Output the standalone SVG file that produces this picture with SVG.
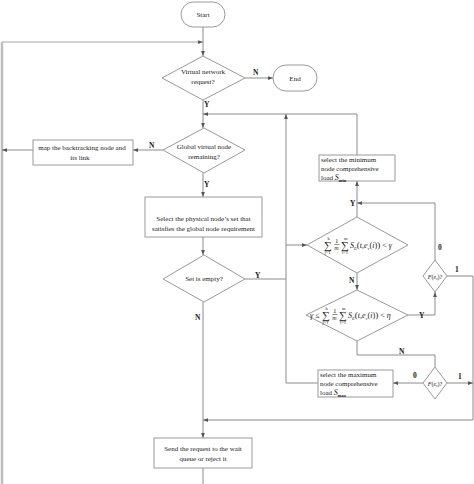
<svg xmlns="http://www.w3.org/2000/svg" width="474" height="484" viewBox="0 0 474 484">
<style>
.ln{stroke:#8c8c8c;stroke-width:1;fill:none}
.bx{fill:#fff;stroke:#9a9a9a;stroke-width:1}
.t{font-family:"Liberation Serif",serif;font-size:7px;fill:#222}
.c{text-anchor:middle}
.lb{font-family:"Liberation Serif",serif;font-size:7.5px;fill:#222;font-weight:bold}
.m{font-family:"Liberation Serif",serif;fill:#222;font-style:italic}
.sg{font-family:"Liberation Serif",serif;fill:#222;font-size:11px}
.sm{font-family:"Liberation Serif",serif;fill:#222;font-size:4.5px}
</style>
<defs>
<marker id="ar" viewBox="0 0 8 6" refX="8" refY="3" markerWidth="5" markerHeight="4" orient="auto" markerUnits="userSpaceOnUse">
<path d="M0 0L8 3L0 6z" fill="#555"/>
</marker>
</defs>
<rect width="474" height="484" fill="#fff"/>
<g id="connectors">
<path d="M2 484V42" stroke="#bdbdbd" stroke-width="2.5" fill="none"/>
<path d="M2 42H203" stroke="#c4c4c4" stroke-width="1.3" fill="none" marker-end="url(#ar)"/>
<path class="ln" d="M203 27V56" marker-end="url(#ar)"/>
<path class="ln" d="M245 78H273" marker-end="url(#ar)"/>
<path class="ln" d="M203 100V128" marker-end="url(#ar)"/>
<path class="ln" d="M357 155V114H203" marker-end="url(#ar)"/>
<path class="ln" d="M318 383H286V114" marker-end="url(#ar)" stroke="#777"/>
<path class="ln" d="M163 150H133" marker-end="url(#ar)"/>
<path class="ln" d="M33 150H2" marker-end="url(#ar)"/>
<path class="ln" d="M203 173V197" marker-end="url(#ar)"/>
<path class="ln" d="M203 237V255" marker-end="url(#ar)"/>
<path class="ln" d="M245 279H286"/>
<path class="ln" d="M286 245H307" marker-end="url(#ar)"/>
<path class="ln" d="M203 302V438" marker-end="url(#ar)"/>
<path class="ln" d="M203 468V484"/>
<path class="ln" d="M357 217V181" marker-end="url(#ar)"/>
<path class="ln" d="M435 260V203H357" marker-end="url(#ar)"/>
<path class="ln" d="M357 273V290" marker-end="url(#ar)"/>
<path class="ln" d="M408 315H435V292" marker-end="url(#ar)"/>
<path class="ln" d="M447 276H473V420H203" stroke="#aaa" marker-end="url(#ar)"/>
<path class="ln" d="M357 341V355H435V367"/>
<path class="ln" d="M423 383H393" marker-end="url(#ar)"/>
<path class="ln" d="M447 383H473" marker-end="url(#ar)"/>
</g>
<g id="labels">
<text class="lb" x="253" y="75">N</text>
<text class="lb" x="204" y="107">Y</text>
<text class="lb" x="149" y="148">N</text>
<text class="lb" x="204" y="187">Y</text>
<text class="lb" x="255" y="278">Y</text>
<text class="lb" x="195" y="320">N</text>
<text class="lb" x="350" y="206">Y</text>
<text class="lb" x="438" y="250">0</text>
<text class="lb" x="455" y="272">1</text>
<text class="lb" x="349" y="283">N</text>
<text class="lb" x="419" y="318">Y</text>
<text class="lb" x="399" y="354">N</text>
<text class="lb" x="413" y="378">0</text>
<text class="lb" x="458" y="379">1</text>
</g>
<g id="start">
<rect class="bx" x="181" y="2" width="44" height="25" rx="12.5"/>
<text class="t c" x="203" y="17">Start</text>
</g>
<g id="q-request">
<polygon class="bx" points="203,56 245,78 203,100 162,78"/>
<text class="t c" x="203" y="74">Virtual network</text>
<text class="t c" x="203" y="84">request?</text>
</g>
<g id="end">
<rect class="bx" x="273" y="65" width="44" height="26" rx="13"/>
<text class="t c" x="295" y="81">End</text>
</g>
<g id="q-global">
<polygon class="bx" points="204,128 245,150 204,173 163,150"/>
<text class="t c" x="204" y="149">Global virtual node</text>
<text class="t c" x="204" y="159">remaining?</text>
</g>
<g id="backtrack">
<rect class="bx" x="33" y="140" width="100" height="25"/>
<text class="t c" x="82" y="150">map the backtracking node and</text>
<text class="t c" x="80" y="160">its link</text>
</g>
<g id="select-set">
<rect class="bx" x="145" y="197" width="117" height="40"/>
<text class="t c" x="203.5" y="221">Select the physical node’s set that</text>
<text class="t c" x="203.5" y="231">satisfies the global node requirement</text>
</g>
<g id="q-empty">
<polygon class="bx" points="204,255 245,279 204,302 163,279"/>
<text class="t c" x="204" y="281">Set is empty?</text>
</g>
<g id="send">
<rect class="bx" x="154" y="438" width="98" height="30"/>
<text class="t c" x="203" y="451">Send the request to the wait</text>
<text class="t c" x="203" y="461">queue or reject it</text>
</g>
<g id="min-box">
<rect class="bx" x="319" y="155" width="76" height="26"/>
<text class="t" x="321" y="162">select the minimum</text>
<text class="t" x="321" y="171">node comprehensive</text>
<text class="t" x="321" y="180">load  <tspan class="m" font-size="8">S</tspan><tspan font-size="4.5" dy="1.5" font-weight="bold">min</tspan></text>
</g>
<g id="max-box">
<rect class="bx" x="318" y="370" width="75" height="27"/>
<text class="t" x="320" y="377">select the maximum</text>
<text class="t" x="320" y="386">node comprehensive</text>
<text class="t" x="320" y="395">load <tspan class="m" font-size="8">S</tspan><tspan font-size="4.5" dy="1.5" font-weight="bold">max</tspan></text>
</g>
<g id="q-cond1">
<polygon class="bx" points="357,217 408,245 357,273 307,245"/>
<text class="sg" x="324" y="249">∑</text>
<text class="sm" x="327.5" y="239.5">k</text>
<text class="sm" x="324.5" y="254">j=1</text>
<text class="t" x="335" y="243" font-size="6">1</text>
<line x1="334.5" y1="244.5" x2="339.5" y2="244.5" stroke="#222" stroke-width="0.5"/>
<text class="m" x="334.3" y="250" font-size="6">m</text>
<text class="sg" x="341" y="249">∑</text>
<text class="sm" x="344" y="239.5">m</text>
<text class="sm" x="342" y="254">i=1</text>
<text class="m" x="350" y="248" font-size="8">S<tspan font-size="4.5" dy="1.5">E</tspan><tspan dy="-1.5" font-style="normal" font-size="9">(</tspan>t,<tspan>e</tspan><tspan font-size="4.5" dy="1.5">v</tspan><tspan dy="-1.5" font-style="normal">(</tspan>i<tspan font-style="normal">)</tspan><tspan font-style="normal" font-size="9">)</tspan><tspan font-style="normal"> &lt; </tspan>γ</text>
</g>
<g id="q-cond2">
<polygon class="bx" points="357,290 408,315 357,341 306,315"/>
<text class="m" x="310" y="318" font-size="8">γ<tspan font-style="normal"> ≤</tspan></text>
<text class="sg" x="322" y="319">∑</text>
<text class="sm" x="325.5" y="309.5">k</text>
<text class="sm" x="322.5" y="324">j=1</text>
<text class="t" x="333" y="313" font-size="6">1</text>
<line x1="332.5" y1="314.5" x2="337.5" y2="314.5" stroke="#222" stroke-width="0.5"/>
<text class="m" x="332.3" y="320" font-size="6">m</text>
<text class="sg" x="339" y="319">∑</text>
<text class="sm" x="342" y="309.5">m</text>
<text class="sm" x="340" y="324">i=1</text>
<text class="m" x="348" y="318" font-size="8">S<tspan font-size="4.5" dy="1.5">E</tspan><tspan dy="-1.5" font-style="normal" font-size="9">(</tspan>t,<tspan>e</tspan><tspan font-size="4.5" dy="1.5">v</tspan><tspan dy="-1.5" font-style="normal">(</tspan>i<tspan font-style="normal">)</tspan><tspan font-style="normal" font-size="9">)</tspan><tspan font-style="normal"> &lt; </tspan>η</text>
</g>
<g id="q-f1">
<polygon class="bx" points="435,260 447,276 435,292 423,276"/>
<text class="m c" x="435" y="278.5" font-size="6">F<tspan font-style="normal">(</tspan>e<tspan font-size="3.5" dy="1">v</tspan><tspan font-style="normal" dy="-1">)?</tspan></text>
</g>
<g id="q-f2">
<polygon class="bx" points="435,367 447,383 435,399 423,383"/>
<text class="m c" x="435" y="385.5" font-size="6">F<tspan font-style="normal">(</tspan>e<tspan font-size="3.5" dy="1">v</tspan><tspan font-style="normal" dy="-1">)?</tspan></text>
</g>
</svg>
